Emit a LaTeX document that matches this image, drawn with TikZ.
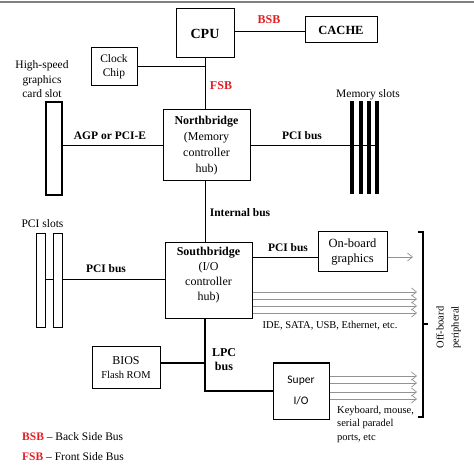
\documentclass[tikz,border=0pt]{standalone}
\usepackage{fontspec}
\setmainfont{Liberation Serif}
\newfontfamily\iofont{Carlito}
\usetikzlibrary{arrows.meta}
\definecolor{busred}{RGB}{225,30,35}

\begin{document}
\begin{tikzpicture}[x=1pt,y=-1pt,
    box/.style={draw,line width=1pt,inner sep=0pt,align=center,
        font=\fontsize{12}{16}\selectfont},
    slotbox/.style={draw,fill=white,line width=0.7pt,inner sep=0pt,
        minimum width=9,minimum height=94},
    membar/.style={fill=black,inner sep=0pt,minimum width=4,minimum height=93},
    buslabel/.style={font=\bfseries\fontsize{11.5}{14}\selectfont,align=center},
    redlabel/.style={text=busred,font=\bfseries\fontsize{12}{14}\selectfont},
    plaintext/.style={font=\fontsize{11.5}{14.5}\selectfont,align=center},
    smalltext/.style={font=\fontsize{10.5}{13.5}\selectfont},
    busline/.style={line width=0.9pt},
    thickbus/.style={line width=1.8pt},
    outarrow/.style={draw=gray!85,line width=0.7pt,-{Straight Barb[length=5pt,width=8pt]}}]
    \useasboundingbox (0,0) rectangle (474,470);
    \draw[gray,line width=1.2pt] (0,2) -- (474,2);
    \coordinate (bus) at (205,0);

    % Boxes
    \node[box,minimum width=58,minimum height=49,font=\bfseries\fontsize{14}{16}\selectfont] (cpu) at (205,33.5) {CPU};
    \node[box,minimum width=72,minimum height=26,font=\bfseries\fontsize{12.5}{15}\selectfont] (cache) at (341,30) {CACHE};
    \node[box,minimum width=46,minimum height=38,font=\fontsize{11.5}{14}\selectfont] (clock) at (114,66.5) {Clock\\Chip};
    \node[box,minimum width=87,minimum height=71] (north) at (206.5,145.5) {\textbf{Northbridge}\\(Memory\\controller\\hub)};
    \node[box,minimum width=87,minimum height=76,font=\fontsize{12}{15}\selectfont] (south) at (208.5,281) {\textbf{Southbridge}\\(I/O\\controller\\hub)\\[0pt]};
    \node[box,minimum width=69,minimum height=40,font=\fontsize{12.5}{15}\selectfont] (graphics) at (352.5,252) {On-board\\graphics};
    \node[box,minimum width=68,minimum height=41] (bios) at (126,367.5) {BIOS\\[-2pt]{\fontsize{10.5}{12}\selectfont Flash ROM}};
    \node[box,minimum width=56,minimum height=56,font=\iofont\fontsize{11.5}{21}\selectfont] (superio) at (301,391) {Super\\I/O};

    % Slots
    \node[draw,line width=2pt,inner sep=0pt,minimum width=16,minimum height=93] (gslot) at (54,148.5) {};
    \foreach \i/\x in {1/352,2/361,3/369,4/377}
        \node[membar] (m\i) at (\x,147.5) {};
    \node[slotbox] (p1) at (40.5,280) {};
    \node[slotbox] (p2) at (57.5,280) {};

    % Buses
    \draw[busline] (cache.west |- 0,31) -- (cpu.east |- 0,31);
    \draw[busline] (cpu.south) -- (bus |- north.north);
    \draw[busline] (clock.east) -- (bus |- clock.east);
    \draw[busline] (bus |- north.south) -- (bus |- south.north);
    \draw[busline] (north.west |- 0,145) -- (gslot.east |- 0,145);
    \draw[busline] (north.east |- 0,145) -- (m4.center |- 0,145);
    \draw[busline] (p1.east |- 0,279) -- (p2.west |- 0,279);
    \draw[busline] (p2.east |- 0,279) -- (south.west |- 0,279);
    \draw[busline] ([yshift=-5pt]south.east |- graphics.west) -- ([yshift=-5pt]graphics.west);
    \draw[thickbus] (bus |- south.south) -- (bus |- superio.west) -- (superio.west);
    \draw[thickbus] ([yshift=4.5pt]bios.east) -- ([yshift=4.5pt]bios.east -| bus);

    % Outputs
    \coordinate (gout) at (413,257);
    \draw[outarrow] ([yshift=-5pt]graphics.east) -- (gout);
    \foreach \i/\y in {1/292,2/299,3/306,4/313} {
        \coordinate (io\i) at (417,\y);
        \draw[outarrow] (south.east |- io\i) -- (io\i);
    }
    \foreach \i/\y in {1/376,2/383,3/392,4/399} {
        \coordinate (sio\i) at (417,\y);
        \draw[outarrow] (superio.east |- sio\i) -- (sio\i);
    }

    % Bracket
    \draw[line width=1.3pt] (418,232) -- (423,232) -- (423,417) -- (418,417);
    \draw[line width=1.3pt] (423,324) -- (428,324);

    % Labels
    \node[redlabel] (bsb) at (269,20) {BSB};
    \node[redlabel] (fsb) at (221,86) {FSB};
    \node[buslabel] (agp) at (110,136) {AGP or PCI-E};
    \node[buslabel] (pcitop) at (302,136) {PCI bus};
    \node[buslabel] (internal) at (240,213) {Internal bus};
    \node[buslabel] (pcileft) at (106,269) {PCI bus};
    \node[buslabel] (pciright) at (288,248) {PCI bus};
    \node[buslabel,font=\bfseries\fontsize{12}{14}\selectfont] (lpc) at (224,360) {LPC\\bus};
    \node[plaintext] (gslotlabel) at (42,79.5) {High-speed\\graphics\\card slot};
    \node[plaintext] (memlabel) at (368,95) {Memory slots};
    \node[plaintext] (pcilabel) at (42.5,224) {PCI slots};
    \node[smalltext] (idelabel) at (330,326) {IDE, SATA, USB, Ethernet, etc.};
    \node[smalltext,align=left,anchor=north west,inner sep=0pt] (kbdlabel) at (337,406) {Keyboard, mouse,\\serial paradel\\ports, etc};
    \node[smalltext,align=center,rotate=90,font=\fontsize{10.5}{15}\selectfont] (offlabel) at (448.5,327.5) {Off-board\\peripheral};
    \node[plaintext,anchor=west,inner sep=0pt] (legend1) at (22,437) {\textcolor{busred}{\textbf{BSB}} -- Back Side Bus};
    \node[plaintext,anchor=west,inner sep=0pt] (legend2) at (22,457) {\textcolor{busred}{\textbf{FSB}} -- Front Side Bus};
\end{tikzpicture}
\end{document}
